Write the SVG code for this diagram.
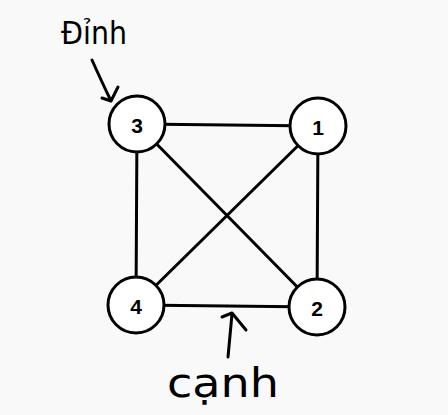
<svg xmlns="http://www.w3.org/2000/svg" width="448" height="415" viewBox="0 0 448 415">
<style>
.node circle{fill:#fff;stroke:#000;stroke-width:3}
.node text{font-family:"Liberation Sans",Arial,sans-serif;font-weight:bold;font-size:21px;text-anchor:middle;dominant-baseline:central;fill:#000}
.edge{stroke:#000;stroke-width:3;fill:none;stroke-linecap:round}
.hand{font-family:"DejaVu Sans","Liberation Sans",sans-serif;fill:#000}
.ink{stroke:#000;stroke-width:3;fill:none;stroke-linecap:round;stroke-linejoin:round}
</style>
<rect width="448" height="415" fill="#f9f9f9"/>
<g id="connectors">
<line class="edge" x1="137" y1="124" x2="318" y2="126"/>
<line class="edge" x1="137" y1="124" x2="136" y2="305"/>
<line class="edge" x1="318" y1="126" x2="317" y2="307"/>
<line class="edge" x1="136" y1="305" x2="317" y2="307"/>
<line class="edge" x1="137" y1="124" x2="317" y2="307"/>
<line class="edge" x1="318" y1="126" x2="136" y2="305"/>
</g>
<g id="node3" class="node"><circle cx="137" cy="124" r="28"/><text x="137" y="125">3</text></g>
<g id="node1" class="node"><circle cx="318" cy="126" r="28"/><text x="318" y="127">1</text></g>
<g id="node4" class="node"><circle cx="136" cy="305" r="28"/><text x="136" y="306">4</text></g>
<g id="node2" class="node"><circle cx="317" cy="307" r="28"/><text x="317" y="308">2</text></g>
<g id="label-dinh">
<text class="hand" x="61" y="44" font-size="32" textLength="66" lengthAdjust="spacingAndGlyphs">Đỉnh</text>
<path class="ink" d="M92 60 Q100 78 111 101 M102 98 L111 101 L118 87"/>
</g>
<g id="label-canh">
<text class="hand" x="167" y="397" font-size="40" textLength="112" lengthAdjust="spacingAndGlyphs">cạnh</text>
<path class="ink" d="M228 357 Q230 335 232 314 M222 317 L232 313 L246 330"/>
</g>
</svg>
